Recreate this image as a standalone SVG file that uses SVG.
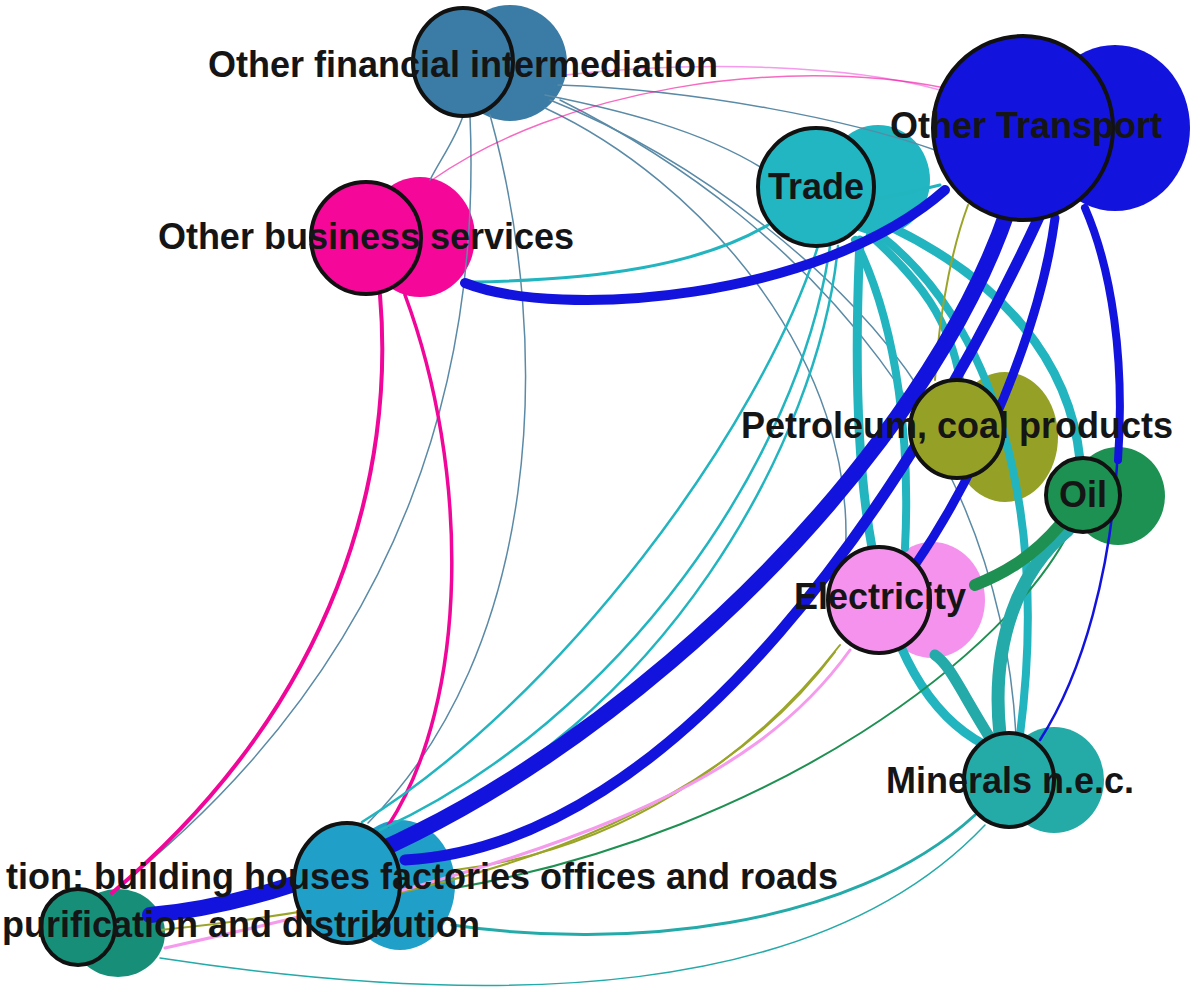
<svg xmlns="http://www.w3.org/2000/svg" width="1200" height="1008" viewBox="0 0 1200 1008">
<style>
.e{fill:none;stroke-linecap:round}
.bl{stroke:#1313de}
.tr{stroke:#22b5c0}
.mn{stroke:#24aaa8}
.oi{stroke:#1e9052}
.ol{stroke:#9aa528}
.el{stroke:#f59aec}
.ob{stroke:#f0079a}
.of{stroke:#5a8aa6}
.ring{stroke:#111;stroke-width:4}
.lbl{font-family:"Liberation Sans",Arial,sans-serif;font-weight:bold;font-size:36px;fill:#151515}
</style>
<rect width="1200" height="1008" fill="#fff"/>
<g id="halos">
<ellipse cx="510" cy="63" rx="57" ry="58" fill="#3a7ca5"/>
<ellipse cx="420" cy="237" rx="55" ry="60" fill="#f5079a"/>
<ellipse cx="878" cy="180" rx="52" ry="55" fill="#21b6c1"/>
<ellipse cx="1115" cy="128" rx="75" ry="83" fill="#1313de"/>
<ellipse cx="1005" cy="437" rx="53" ry="65" fill="#94a126"/>
<ellipse cx="1118" cy="496" rx="47" ry="49" fill="#1c9152"/>
<ellipse cx="932" cy="600" rx="53" ry="58" fill="#f492ee"/>
<ellipse cx="1054" cy="780" rx="50" ry="53" fill="#24aba7"/>
<ellipse cx="400" cy="885" rx="55" ry="65" fill="#20a0c8"/>
<ellipse cx="118" cy="933" rx="47" ry="44" fill="#178f78"/>
</g>
<g id="connectors">
<path class="e of" stroke-width="1.5" d="M463 116 C455 140 440 160 430 180"/>
<path class="e of" stroke-width="1.5" d="M470 116 C480 350 420 650 112 892"/>
<path class="e of" stroke-width="1.5" d="M490 115 C555 350 540 650 368 823"/>
<path class="e of" stroke-width="1.5" d="M545 95 C620 110 700 130 762 168"/>
<path class="e of" stroke-width="1.5" d="M550 100 C700 160 850 280 920 390"/>
<path class="e of" stroke-width="1.5" d="M545 108 C700 180 860 360 845 560"/>
<path class="e of" stroke-width="1.5" d="M560 100 C820 230 1000 450 1016 735"/>
<path class="e of" stroke-width="1.5" d="M558 85 C700 90 850 120 935 150"/>
<path class="e el" stroke-width="1.5" d="M565 75 C700 60 850 65 940 90"/>
<path class="e ob" stroke-width="1.5" stroke-opacity="0.6" d="M432 180 C560 90 780 55 945 88"/>
<path class="e ob" stroke-width="4" d="M380 295 C395 470 340 700 112 893"/>
<path class="e ob" stroke-width="3.5" d="M405 295 C470 470 470 700 388 826"/>
<path class="e tr" stroke-width="3" d="M768 225 C700 265 600 280 470 282"/>
<path class="e tr" stroke-width="2.5" d="M818 246 C760 430 560 700 362 822"/>
<path class="e tr" stroke-width="2.5" d="M830 246 C800 460 620 720 380 830"/>
<path class="e tr" stroke-width="2.5" d="M838 246 C820 440 660 730 395 835"/>
<path class="e tr" stroke-width="3" d="M870 200 C900 195 920 190 940 185"/>
<path class="e tr" stroke-width="8" d="M855 240 C900 330 910 450 905 548"/>
<path class="e tr" stroke-width="8" d="M870 235 C920 280 950 320 960 380"/>
<path class="e tr" stroke-width="9" d="M893 228 C1000 280 1070 360 1080 460"/>
<path class="e tr" stroke-width="8" d="M880 235 C990 320 1050 500 1020 735"/>
<path class="e tr" stroke-width="9" d="M860 240 C850 450 860 680 985 745"/>
<path class="e ol" stroke-width="2" d="M935 380 C940 300 955 240 968 205"/>
<path class="e ol" stroke-width="2" d="M840 645 C750 760 620 850 455 870"/>
<path class="e ol" stroke-width="2" d="M835 652 C740 780 560 890 160 930"/>
<path class="e el" stroke-width="3" d="M850 650 C750 790 560 860 165 948"/>
<path class="e oi" stroke-width="2" d="M1070 530 C1010 650 780 830 455 888"/>
<path class="e mn" stroke-width="11" d="M990 738 C960 690 950 665 935 655"/>
<path class="e mn" stroke-width="13" d="M1000 735 C990 640 1020 570 1068 530"/>
<path class="e mn" stroke-width="3" d="M975 815 C850 930 620 950 452 925"/>
<path class="e mn" stroke-width="1.5" d="M985 825 C820 1000 500 1010 160 958"/>
<path class="e oi" stroke-width="12" d="M1060 525 C1030 560 1000 575 975 585"/>
<path class="e bl" stroke-width="10" d="M945 190 C820 300 560 320 465 283"/>
<path class="e bl" stroke-width="16" d="M1008 210 C908 505 494 884 150 915"/>
<path class="e bl" stroke-width="11" d="M1040 215 C916 484 680 845 405 860"/>
<path class="e bl" stroke-width="9" d="M1055 218 C1040 330 980 470 915 565"/>
<path class="e bl" stroke-width="2.5" d="M1085 208 C1140 330 1130 600 1040 740"/>
<path class="e bl" stroke-width="8" d="M1085 208 C1112 270 1125 360 1118 460"/>
</g>
<g id="n-ofi"><ellipse class="ring" cx="463" cy="62" rx="50" ry="54" fill="#3a7ca5"/></g>
<g id="n-obs"><ellipse class="ring" cx="366" cy="238" rx="55" ry="56" fill="#f5079a"/></g>
<g id="n-trade"><ellipse class="ring" cx="816" cy="187" rx="58" ry="59" fill="#21b6c1"/></g>
<g id="n-ot"><ellipse class="ring" cx="1023" cy="128" rx="90" ry="92" fill="#1313de"/></g>
<g id="n-petro"><ellipse class="ring" cx="957" cy="429" rx="47" ry="49" fill="#94a126"/></g>
<g id="n-oil"><ellipse class="ring" cx="1083" cy="495" rx="37" ry="37" fill="#1c9152"/></g>
<g id="n-elec"><ellipse class="ring" cx="879" cy="600" rx="51" ry="53" fill="#f492ee"/></g>
<g id="n-min"><ellipse class="ring" cx="1009" cy="780" rx="45" ry="47" fill="#24aba7"/></g>
<g id="n-cons"><ellipse class="ring" cx="347" cy="883" rx="53" ry="60" fill="#20a0c8"/></g>
<g id="n-water"><ellipse class="ring" cx="78" cy="927" rx="37" ry="38" fill="#178f78"/></g>
<g id="labels">
<text class="lbl" x="463" y="77" text-anchor="middle">Other financial intermediation</text>
<text class="lbl" x="366" y="249" text-anchor="middle">Other business services</text>
<text class="lbl" x="816" y="199" text-anchor="middle">Trade</text>
<text class="lbl" x="1026" y="138" text-anchor="middle">Other Transport</text>
<text class="lbl" x="957" y="438" text-anchor="middle">Petroleum, coal products</text>
<text class="lbl" x="1083" y="507" text-anchor="middle">Oil</text>
<text class="lbl" x="880" y="609" text-anchor="middle">Electricity</text>
<text class="lbl" x="1010" y="793" text-anchor="middle">Minerals n.e.c.</text>
<text class="lbl" x="6" y="889">tion: building houses factories offices and roads</text>
<text class="lbl" x="2" y="937">purification and distribution</text>
</g>
</svg>
